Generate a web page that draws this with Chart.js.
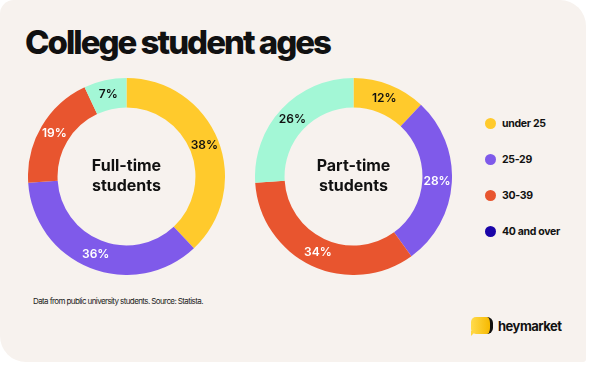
<!DOCTYPE html>
<html>
<head>
<meta charset="utf-8">
<script src="https://cdn.jsdelivr.net/npm/chart.js@4"></script>
<style>
html, body { margin: 0; padding: 0; background: #fff; width: 600px; height: 372px; overflow: hidden; }
#panel { position: absolute; left: 0; top: 0; width: 586px; height: 362px; background: #f7f2ee;
  border-radius: 14px 26px 3px 26px; font-family: Inter, sans-serif; color: #111; }
#title { position: absolute; left: 25px; top: 25px; font-size: 33px; line-height: 34px; font-weight: 800; letter-spacing: -2px; white-space: nowrap; }
.chartBox { position: absolute; top: 78px; width: 197px; height: 197px; }
#legend { position: absolute; left: 485px; top: 0; }
.item { position: absolute; left: 0; display: flex; align-items: center; height: 12px; white-space: nowrap; font-size: 10.5px; font-weight: 700; letter-spacing: -0.3px; }
.dot { width: 11px; height: 11px; border-radius: 50%; margin-right: 6px; }
#note { position: absolute; left: 33px; top: 297px; font-size: 8px; line-height: 8px; letter-spacing: -0.6px; color: #222; white-space: nowrap; }
#logo { position: absolute; left: 471px; top: 317px; width: 95px; height: 20px; }
#bubble { position: absolute; left: 0; top: 0; width: 19px; height: 17px; border-radius: 5px 6px 6px 5px;
  background: linear-gradient(90deg, #ffdb4d, #f7b900); border-right: 3px solid #111; }
#tail { position: absolute; left: 0; top: 14px; width: 0; height: 0; border-left: 5px solid #ffd640; border-bottom: 5px solid transparent; }
#brand { position: absolute; left: 27px; top: 1px; font-size: 13px; line-height: 16px; font-weight: 700; letter-spacing: -0.5px; }
</style>
</head>
<body>
<div id="panel">
  <div id="title">College student ages</div>
  <div class="chartBox" style="left:28px"><canvas id="fullChart"></canvas></div>
  <div class="chartBox" style="left:255px"><canvas id="partChart"></canvas></div>
  <div id="legend"></div>
  <div id="note">Data from public university students. Source: Statista.</div>
  <div id="logo"><div id="bubble"></div><div id="tail"></div><div id="brand">heymarket</div></div>
</div>
<script>
// Age groups and share of students (%)
const ageGroups = ['under 25', '25-29', '30-39', '40 and over'];
const fullTime = [38, 36, 19, 7];
const partTime = [12, 28, 34, 26];

const sliceColors = ['#ffca2c', '#7f5aea', '#e8552f', '#a3f7d6'];
const legendColors = ['#ffca2c', '#7f5aea', '#e8552f', '#1a04a8'];
const labelColors = ['#111', '#fff', '#fff', '#111'];
const legendTops = [117, 153, 189, 225];

// Percent labels on the ring plus the title in the hole
const ringLabels = {
    id: 'ringLabels',
    afterDatasetsDraw(chart, args, opts) {
        const ctx = chart.ctx;
        const meta = chart.getDatasetMeta(0);
        const values = chart.data.datasets[0].data;
        ctx.save();
        ctx.textAlign = 'center';
        ctx.textBaseline = 'middle';
        ctx.font = '600 12px Inter';
        meta.data.forEach((arc, i) => {
            const p = arc.tooltipPosition();
            ctx.fillStyle = labelColors[i];
            ctx.fillText(values[i] + '%', p.x, p.y);
        });
        const c = meta.data[0];
        ctx.font = '700 16px Inter';
        ctx.fillStyle = '#111';
        opts.lines.forEach((line, k) => ctx.fillText(line, c.x, c.y - 10 + k * 20));
        ctx.restore();
    }
};

function makeDonut(id, values, lines) {
    return new Chart(document.getElementById(id), {
        type: 'doughnut',
        data: {
            labels: ageGroups,
            datasets: [{ data: values, backgroundColor: sliceColors, borderWidth: 0 }]
        },
        options: {
            responsive: true,
            maintainAspectRatio: false,
            animation: false,
            cutout: '70%',
            layout: { padding: 0 },
            plugins: {
                legend: { display: false },
                tooltip: { enabled: false },
                ringLabels: { lines: lines }
            }
        },
        plugins: [ringLabels]
    });
}

makeDonut('fullChart', fullTime, ['Full-time', 'students']);
makeDonut('partChart', partTime, ['Part-time', 'students']);

// Legend
const legend = document.getElementById('legend');
ageGroups.forEach((name, i) => {
    const item = document.createElement('div');
    item.className = 'item';
    item.style.top = legendTops[i] + 'px';
    item.innerHTML = `<span class="dot" style="background:${legendColors[i]}"></span>${name}`;
    legend.appendChild(item);
});
</script>
</body>
</html>
